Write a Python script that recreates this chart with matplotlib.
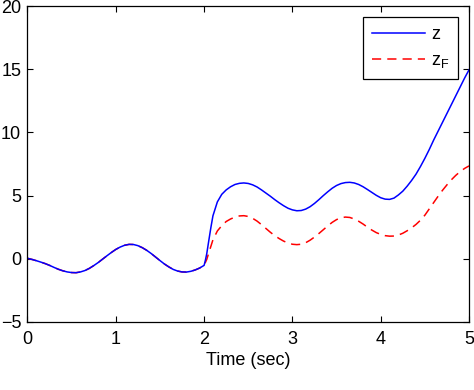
import numpy as np
import matplotlib
matplotlib.use("Agg")
import matplotlib.pyplot as plt

plt.rcParams['font.family'] = ['Liberation Sans', 'DejaVu Sans']
plt.rcParams['mathtext.fontset'] = 'custom'
plt.rcParams['mathtext.rm'] = 'Liberation Sans'
plt.rcParams['mathtext.it'] = 'Liberation Sans'

# Shared part (both signals coincide up to t = 2)
t_pre = [0.0, 0.05, 0.1, 0.15, 0.2, 0.25, 0.3, 0.35, 0.4, 0.45, 0.5,
         0.55, 0.6, 0.65, 0.7, 0.75, 0.8, 0.85, 0.9, 0.95, 1.0,
         1.05, 1.1, 1.15, 1.2, 1.25, 1.3, 1.35, 1.4, 1.45, 1.5,
         1.55, 1.6, 1.65, 1.7, 1.75, 1.8, 1.85, 1.9, 1.95, 2.0]
z_pre = [0.04, -0.05, -0.15, -0.26, -0.38, -0.52, -0.68, -0.83, -0.95, -1.04, -1.09,
         -1.1, -1.04, -0.93, -0.76, -0.54, -0.3, -0.03, 0.24, 0.5, 0.74,
         0.93, 1.07, 1.14, 1.13, 1.04, 0.88, 0.67, 0.42, 0.14, -0.14,
         -0.41, -0.64, -0.84, -0.97, -1.04, -1.05, -0.99, -0.88, -0.73, -0.52]

# z after t = 2
t_z = [2.015, 2.03, 2.05, 2.075, 2.1, 2.15, 2.2, 2.25, 2.3, 2.35, 2.4, 2.45, 2.5,
       2.55, 2.6, 2.65, 2.7, 2.75, 2.8, 2.85, 2.9, 2.95, 3.0,
       3.05, 3.1, 3.15, 3.2, 3.25, 3.3, 3.35, 3.4, 3.45, 3.5,
       3.55, 3.6, 3.65, 3.7, 3.75, 3.8, 3.85, 3.9, 3.95, 4.0,
       4.05, 4.1, 4.15, 4.2, 4.25, 4.3, 4.35, 4.4, 4.45, 4.5,
       4.55, 4.6, 4.65, 4.7, 4.75, 4.8, 4.85, 4.9, 4.95, 5.0]
z_post = [-0.1, 0.4, 1.3, 2.4, 3.4, 4.5, 5.1, 5.45, 5.7, 5.88, 5.97, 6.0, 5.96,
          5.85, 5.68, 5.45, 5.2, 4.95, 4.68, 4.43, 4.2, 4.0, 3.87,
          3.8, 3.82, 3.93, 4.12, 4.38, 4.68, 5.0, 5.3, 5.58, 5.8,
          5.95, 6.03, 6.05, 6.0, 5.88, 5.7, 5.48, 5.25, 5.02, 4.83,
          4.72, 4.7, 4.8, 5.05, 5.35, 5.75, 6.2, 6.7, 7.3, 7.95,
          8.65, 9.4, 10.1, 10.8, 11.5, 12.2, 12.9, 13.6, 14.3, 14.95]

# z_F after t = 2
t_zf = [2.03, 2.05, 2.075, 2.1, 2.15, 2.2, 2.25, 2.3, 2.35, 2.4, 2.45, 2.5,
        2.55, 2.6, 2.65, 2.7, 2.75, 2.8, 2.85, 2.9, 2.95, 3.0,
        3.05, 3.1, 3.15, 3.2, 3.25, 3.3, 3.35, 3.4, 3.45, 3.5,
        3.55, 3.6, 3.65, 3.7, 3.75, 3.8, 3.85, 3.9, 3.95, 4.0,
        4.05, 4.1, 4.15, 4.2, 4.25, 4.3, 4.35, 4.4, 4.45, 4.5,
        4.55, 4.6, 4.65, 4.7, 4.75, 4.8, 4.85, 4.9, 4.95, 5.0]
zf_post = [-0.05, 0.4, 0.95, 1.5, 2.2, 2.62, 2.95, 3.15, 3.3, 3.39, 3.41, 3.35,
           3.2, 2.98, 2.7, 2.4, 2.1, 1.83, 1.6, 1.4, 1.25, 1.15,
           1.12, 1.15, 1.27, 1.47, 1.72, 2.0, 2.3, 2.6, 2.88, 3.1,
           3.25, 3.3, 3.27, 3.15, 2.97, 2.75, 2.5, 2.27, 2.07, 1.93,
           1.83, 1.79, 1.8, 1.88, 2.02, 2.22, 2.45, 2.72, 3.05, 3.45,
           3.95, 4.45, 4.95, 5.42, 5.85, 6.25, 6.6, 6.9, 7.15, 7.35]

t1 = t_pre + t_z
z = z_pre + z_post
t2 = t_pre + t_zf
zf = z_pre + zf_post

blue = '#0000ff'
red = '#ff0000'
dash = (0, (6, 4))

fig = plt.figure(figsize=(4.74, 3.9), dpi=100)
ax = fig.add_axes([0.058, 0.1744, 0.9315, 0.8102])

ax.plot(t2, zf, color=red, linestyle=dash, linewidth=1.1)
ax.plot(t1, z, color=blue, linewidth=1.1)

# legend in the order z, z_F
h1, = ax.plot([], [], color=blue, linewidth=1.1)
h2, = ax.plot([], [], color=red, linestyle=dash, linewidth=1.1)
leg = ax.legend([h1, h2], ['z', r'z$_{\mathrm{F}}$'], loc='upper right',
                fontsize=13, fancybox=False, framealpha=1, edgecolor='black',
                handlelength=2.9, handletextpad=0.35, borderpad=0.5,
                borderaxespad=0.6)
leg.get_frame().set_linewidth(0.9)

ax.set_xlim(0, 5)
ax.set_ylim(-5, 20)
ax.set_xticks([0, 1, 2, 3, 4, 5])
ax.set_yticks([-5, 0, 5, 10, 15, 20])
ax.tick_params(direction='in', top=True, right=True, labelsize=13, length=4)
ax.tick_params(axis='x', pad=6.5)
ax.tick_params(axis='y', pad=4.5)
ax.set_xlabel("Time (sec)", fontsize=13, labelpad=3)
for s in ax.spines.values():
    s.set_linewidth(0.9)

plt.savefig("out.png", dpi=100)
